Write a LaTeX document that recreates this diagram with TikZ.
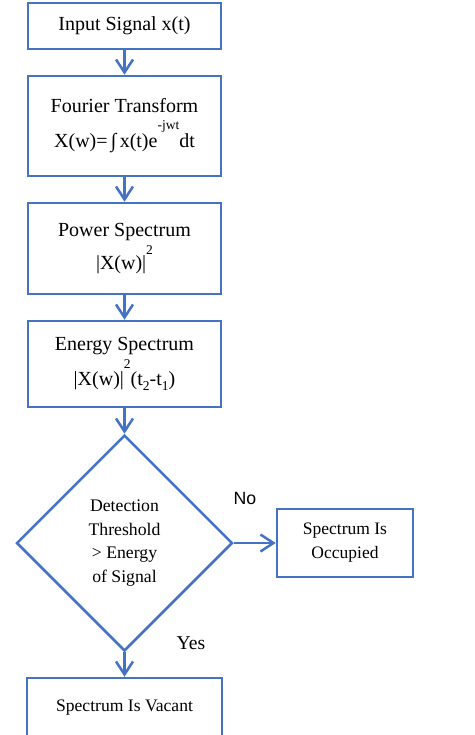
\documentclass[tikz,border=0pt]{standalone}
\usepackage{fontspec}
\setmainfont{Liberation Serif}
\newfontfamily\sansf{Liberation Sans}
\usetikzlibrary{shapes.geometric,arrows.meta}
\definecolor{fblue}{HTML}{4472C4}
\newcommand\supr[2][16pt]{\smash{\raisebox{#1}{\fontsize{13.5}{13.5}\selectfont #2}}}
\newcommand\subr[1]{\smash{\raisebox{-5pt}{\fontsize{13.5}{13.5}\selectfont #1}}}
\begin{document}
\begin{tikzpicture}[x=1pt,y=-1pt,
  box/.style={draw=fblue, line width=2.5pt, minimum width=193pt, inner sep=0pt, align=center, font=\fontsize{20}{24}\selectfont},
  arr/.style={draw=fblue, line width=2.5pt, -{Straight Barb[length=13pt,width=17pt]}}]
\useasboundingbox (0,0) rectangle (474,735);
\clip (0,0) rectangle (474,735);
\node[box, minimum height=46pt] (inp) at (124.5,26) {Input Signal x(t)};
\node[box, minimum height=100pt, font=\fontsize{20}{35}\selectfont] (ft) at (124.5,126) {Fourier Transform\\X(w)=\,∫\,x(t)e\supr[18pt]{-jwt}dt};
\node[box, minimum height=91pt, font=\fontsize{20}{33}\selectfont] (ps) at (124.5,248.5) {Power Spectrum\\|X(w)|\supr[15pt]{2}};
\node[box, minimum height=86pt, font=\fontsize{20}{35}\selectfont] (es) at (124.5,364) {Energy Spectrum\\|X(w)|\supr[17pt]{2}(t\subr{2}-t\subr{1})};
\node[draw=fblue, line width=2.5pt, diamond, minimum width=216pt, minimum height=216pt, inner sep=0pt, align=center, font=\fontsize{17.7}{23.5}\selectfont] (dec) at (124.5,543) {Detection\\Threshold\\> Energy\\of Signal};
\node[box, minimum width=136pt, minimum height=68pt, font=\fontsize{17.5}{24}\selectfont] (occ) at (345,543) {Spectrum Is\\Occupied};
\node[box, minimum width=195pt, minimum height=60pt, font=\fontsize{17.6}{22}\selectfont] (vac) at (124.5,708) {Spectrum Is Vacant};
\node[font=\sansf\fontsize{17.7}{20}\selectfont] (no) at (245,498) {No};
\node[font=\fontsize{19.6}{22}\selectfont] (yes) at (191,643) {Yes};
\draw[arr] (inp) -- (ft);
\draw[arr] (ft) -- (ps);
\draw[arr] (ps) -- (es);
\draw[arr] (es) -- (dec);
\draw[arr] (dec.east) -- (occ.west);
\draw[arr] (dec.south) -- (vac.north);
\end{tikzpicture}
\end{document}
